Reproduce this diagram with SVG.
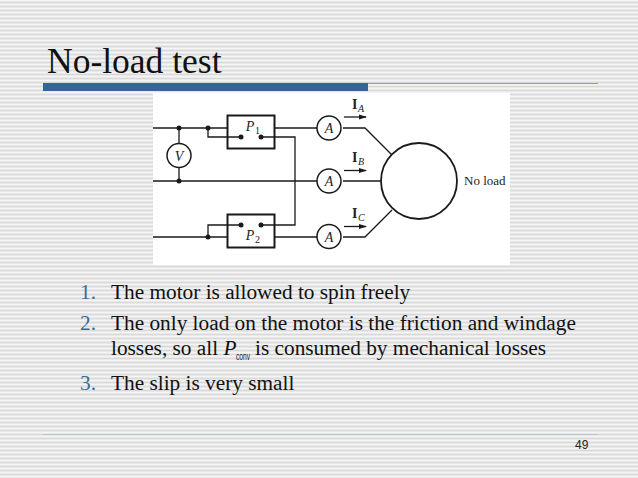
<svg xmlns="http://www.w3.org/2000/svg" width="638" height="478" viewBox="0 0 638 478">
<style>
.t{font-family:"Liberation Serif","Times New Roman",serif;fill:#111}
.b{font-size:21.3px}
.n{font-size:21.3px;fill:#3a6a96}
.w{fill:none;stroke:#1a1a1a;stroke-width:1.3}
.box{fill:#fff;stroke:#1a1a1a;stroke-width:2}
.m{fill:#fff;stroke:#1a1a1a;stroke-width:1.5}
.d{fill:#1a1a1a}
.l{font-family:"Liberation Serif",serif;font-style:italic;font-size:14px;fill:#222;text-anchor:middle}
.i{font-family:"Liberation Serif",serif;font-weight:bold;font-size:14px;fill:#222}
.s{font-family:"Liberation Serif",serif;font-style:italic;font-size:10px;fill:#222}
.s2{font-family:"Liberation Serif",serif;font-size:10px;fill:#222}
</style>
<defs>
<pattern id="st" width="4" height="4" patternUnits="userSpaceOnUse"><rect width="4" height="4" fill="#e9e9e9"/><rect y="0" width="4" height="1" fill="#f4f4f4"/><rect y="2" width="4" height="1" fill="#d9d9d9"/></pattern>
<marker id="ah" markerWidth="8" markerHeight="6" refX="7" refY="3" orient="auto" markerUnits="userSpaceOnUse"><path d="M0 0.5L8 3L0 5.5z" fill="#1a1a1a"/></marker>
</defs>
<rect width="638" height="478" fill="url(#st)"/>
<text class="t" x="47" y="73" font-size="35.500">No-load test</text>
<rect x="43" y="83" width="325" height="8" fill="#31659c"/>
<rect x="368" y="83" width="230" height="1" fill="#7f9fc0"/>
<rect x="153" y="93" width="357" height="172" fill="#fff"/>
<g id="connectors">
<path class="w" d="M153 128H227M208 128V137H227M275 128H317M153 181H317M179 128V181M208 237V225H227M153 237H227M275 225H295V137H275M275 237H317"/>
<path class="w" d="M343 128H365L392 155M343 181H381M343 237H365L392 210"/>
<path class="w" marker-end="url(#ah)" d="M344 117H366"/>
<path class="w" marker-end="url(#ah)" d="M344 170.500H366"/>
<path class="w" marker-end="url(#ah)" d="M344 226.500H366"/>
<g class="d"><circle cx="179" cy="128" r="2.500"/><circle cx="208" cy="128" r="2.500"/><circle cx="179" cy="181" r="2.500"/><circle cx="208" cy="237" r="2.500"/></g>
</g>
<g id="P1"><rect class="box" x="227.500" y="115.500" width="47" height="33"/><circle class="d" cx="241" cy="137" r="2.500"/><circle class="d" cx="261" cy="137" r="2.500"/><path class="w" d="M227 137H241M261 137H275"/><text class="l" x="250" y="131">P</text><text class="s2" x="255" y="134">1</text></g>
<g id="P2"><rect class="box" x="227.500" y="214.500" width="47" height="33"/><circle class="d" cx="241" cy="225" r="2.500"/><circle class="d" cx="261" cy="225" r="2.500"/><path class="w" d="M227 225H241M261 225H275"/><text class="l" x="250" y="240">P</text><text class="s2" x="255" y="243">2</text></g>
<g id="V"><circle class="m" cx="179" cy="155.500" r="12"/><text class="l" x="179" y="160.500">V</text></g>
<g id="A1"><circle class="m" cx="329" cy="128" r="12"/><text class="l" x="329" y="133">A</text></g>
<g id="A2"><circle class="m" cx="329" cy="181" r="12"/><text class="l" x="329" y="186">A</text></g>
<g id="A3"><circle class="m" cx="329" cy="236.500" r="12"/><text class="l" x="329" y="241.500">A</text></g>
<g id="motor"><circle cx="419" cy="181" r="38" fill="#fff" stroke="#1a1a1a" stroke-width="1.800"/></g>
<g id="currents">
<text class="i" x="352" y="109">I</text><text class="s" x="358" y="112">A</text>
<text class="i" x="352" y="162">I</text><text class="s" x="358" y="165">B</text>
<text class="i" x="352" y="218">I</text><text class="s" x="358" y="221">C</text>
</g>
<text x="464" y="184.500" font-family="Liberation Serif,serif" font-size="13" fill="#222">No load</text>
<g id="list">
<text class="t n" x="80" y="298.500">1.</text><text class="t b" x="111" y="298.500">The motor is allowed to spin freely</text>
<text class="t n" x="80" y="329.500">2.</text><text class="t b" x="111" y="329.500">The only load on the motor is the friction and windage</text>
<text class="t b" x="111" y="354.500">losses, so all <tspan font-style="italic">P</tspan></text>
<text x="236" y="359.500" font-family="Liberation Sans,sans-serif" font-size="10" fill="#222" textLength="14" lengthAdjust="spacingAndGlyphs">conv</text>
<text class="t b" x="255" y="354.500">is consumed by mechanical losses</text>
<text class="t n" x="80" y="390">3.</text><text class="t b" x="111" y="390">The slip is very small</text>
</g>
<rect x="43" y="434" width="555" height="1" fill="#bcc4d2"/>
<text x="575" y="449" font-family="Liberation Sans,sans-serif" font-size="12" fill="#222">49</text>
</svg>
